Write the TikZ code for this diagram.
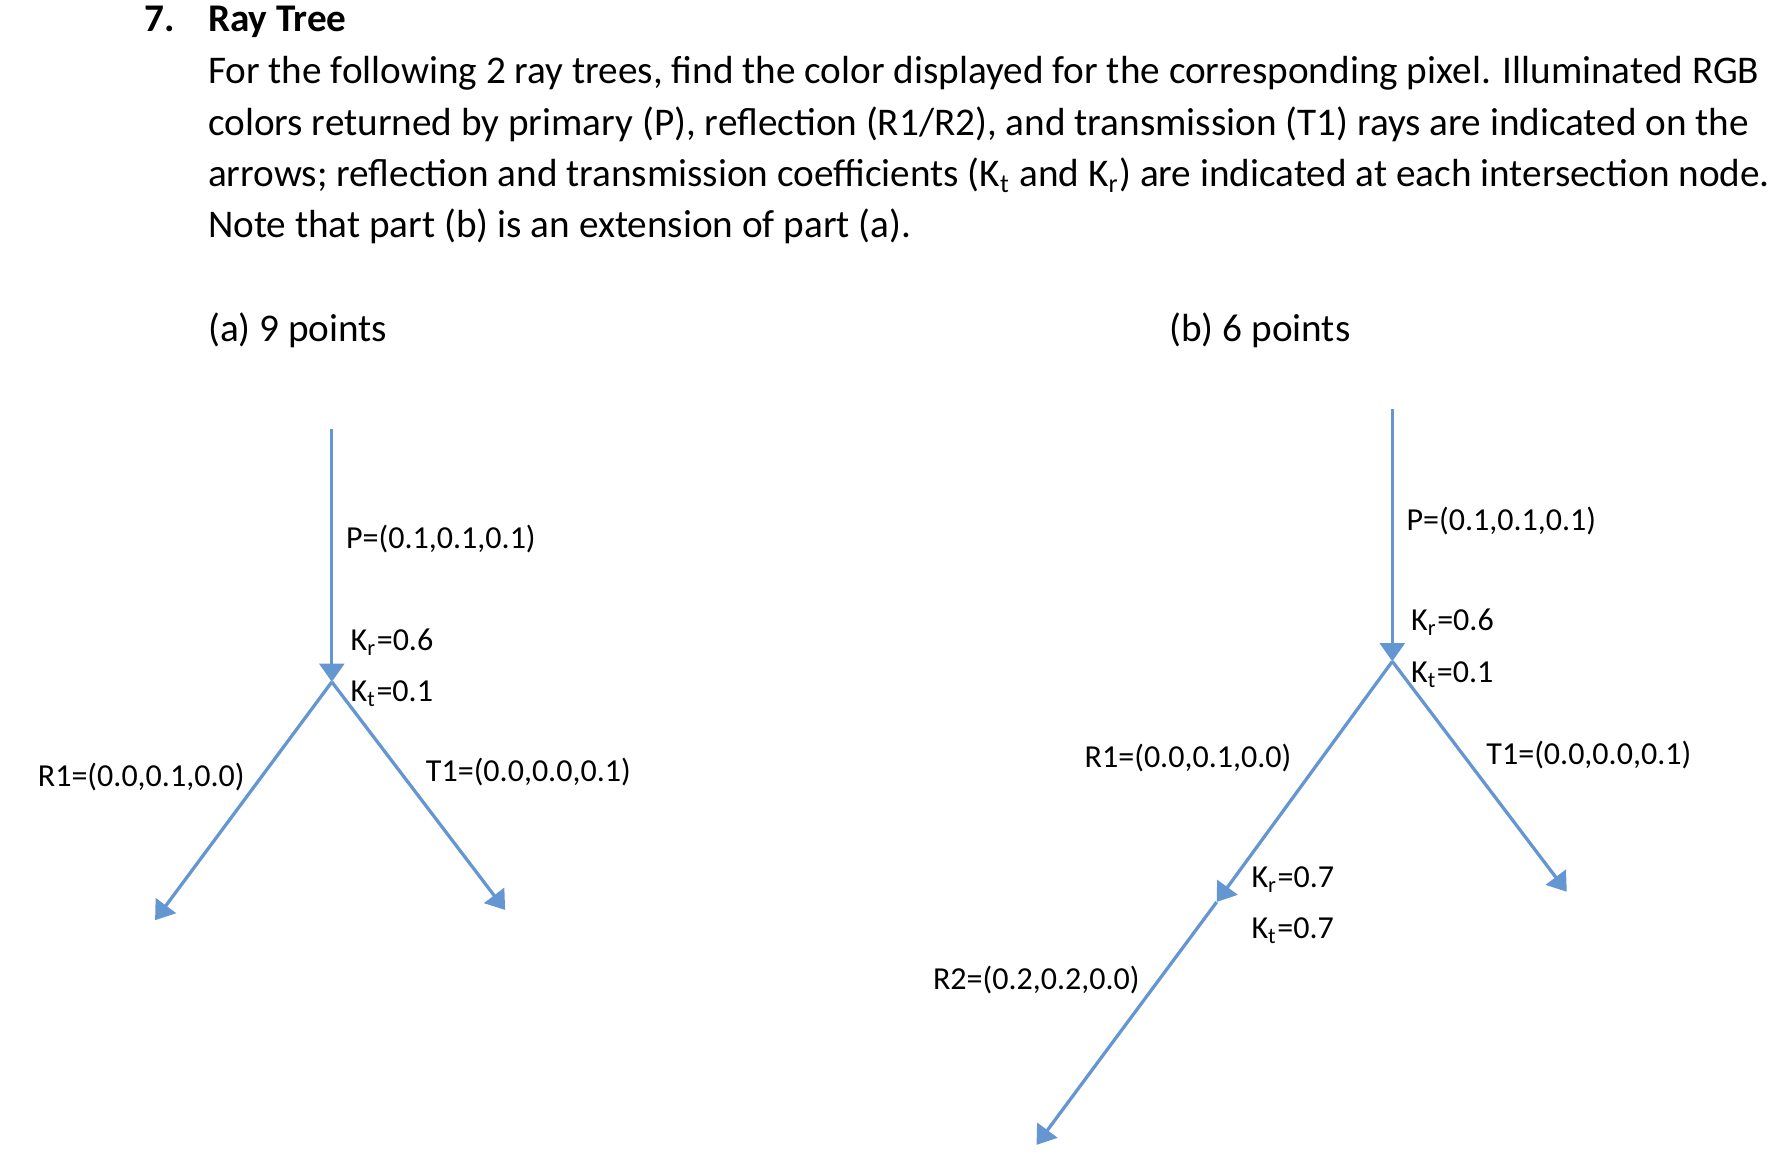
\documentclass[tikz,border=0pt]{standalone}
\usepackage{fontspec}
\setmainfont{Carlito}
\usetikzlibrary{arrows.meta}
\definecolor{raycol}{RGB}{100,150,210}
\tikzset{
  ray/.style={draw=raycol, line width=1pt, -{Triangle[width=7.6pt,length=5.6pt]}},
  bodytext/.style={anchor=base west, inner sep=0pt, font=\fontsize{12}{15}\selectfont},
  lbl/.style={inner sep=0pt, font=\fontsize{9.8}{12}\selectfont},
}
\begin{document}
\begin{tikzpicture}[x=0.349pt, y=-0.349pt]
\useasboundingbox (0,0) rectangle (1568,1024);
% header
\node[bodytext, font=\fontsize{12}{15}\selectfont\bfseries] (num) at (126,27.6) {7.};
\node[bodytext, font=\fontsize{12}{15}\selectfont\bfseries] (title) at (182,27.6) {Ray Tree};
\node[bodytext] (l1) at (182,73.6) {For the following 2 ray trees, find the color displayed for the corresponding pixel. Illuminated RGB};
\node[bodytext] (l2) at (182,118.6) {colors returned by primary (P), reflection (R1/R2), and transmission (T1) rays are indicated on the};
\node[bodytext] (l3) at (182,163.6) {arrows; reflection and transmission coefficients (K\textsubscript{t} and K\textsubscript{r}) are indicated at each intersection node.};
\node[bodytext] (l4) at (182,208.6) {Note that part (b) is an extension of part (a).};
\node[bodytext] (pa) at (182,299.6) {(a) 9 points};
\node[bodytext] (pb) at (1025,299.6) {(b) 6 points};
% tree (a)
\coordinate (a0) at (291,376);
\coordinate (aj) at (291,598);
\coordinate (ar) at (136,807);
\coordinate (at) at (443,798);
\draw[ray] (a0) -- (aj);
\draw[ray] (aj) -- (ar);
\draw[ray] (aj) -- (at);
\node[lbl, anchor=west] (Pa) at (303,473) {P=(0.1,0.1,0.1)};
\node[lbl, anchor=west] (Kra) at (307,563) {K\textsubscript{r}=0.6};
\node[lbl, anchor=west] (Kta) at (307,608) {K\textsubscript{t}=0.1};
\node[lbl, anchor=east] (R1a) at (215,681) {R1=(0.0,0.1,0.0)};
\node[lbl, anchor=west] (T1a) at (373,677) {T1=(0.0,0.0,0.1)};
% tree (b)
\coordinate (b0) at (1221,359);
\coordinate (bj) at (1221,580);
\coordinate (bk) at (1067,791);
\coordinate (br) at (909,1004);
\coordinate (bt) at (1374,782);
\draw[ray] (b0) -- (bj);
\draw[ray] (bj) -- (bk);
\draw[ray] (bk) -- (br);
\draw[ray] (bj) -- (bt);
\node[lbl, anchor=west] (Pb) at (1233,457) {P=(0.1,0.1,0.1)};
\node[lbl, anchor=west] (Krb) at (1237,546) {K\textsubscript{r}=0.6};
\node[lbl, anchor=west] (Ktb) at (1237,592) {K\textsubscript{t}=0.1};
\node[lbl, anchor=east] (R1b) at (1133,665) {R1=(0.0,0.1,0.0)};
\node[lbl, anchor=west] (T1b) at (1303,662) {T1=(0.0,0.0,0.1)};
\node[lbl, anchor=west] (Krc) at (1097,771) {K\textsubscript{r}=0.7};
\node[lbl, anchor=west] (Ktc) at (1097,816) {K\textsubscript{t}=0.7};
\node[lbl, anchor=east] (R2b) at (1000,859) {R2=(0.2,0.2,0.0)};
\end{tikzpicture}
\end{document}
